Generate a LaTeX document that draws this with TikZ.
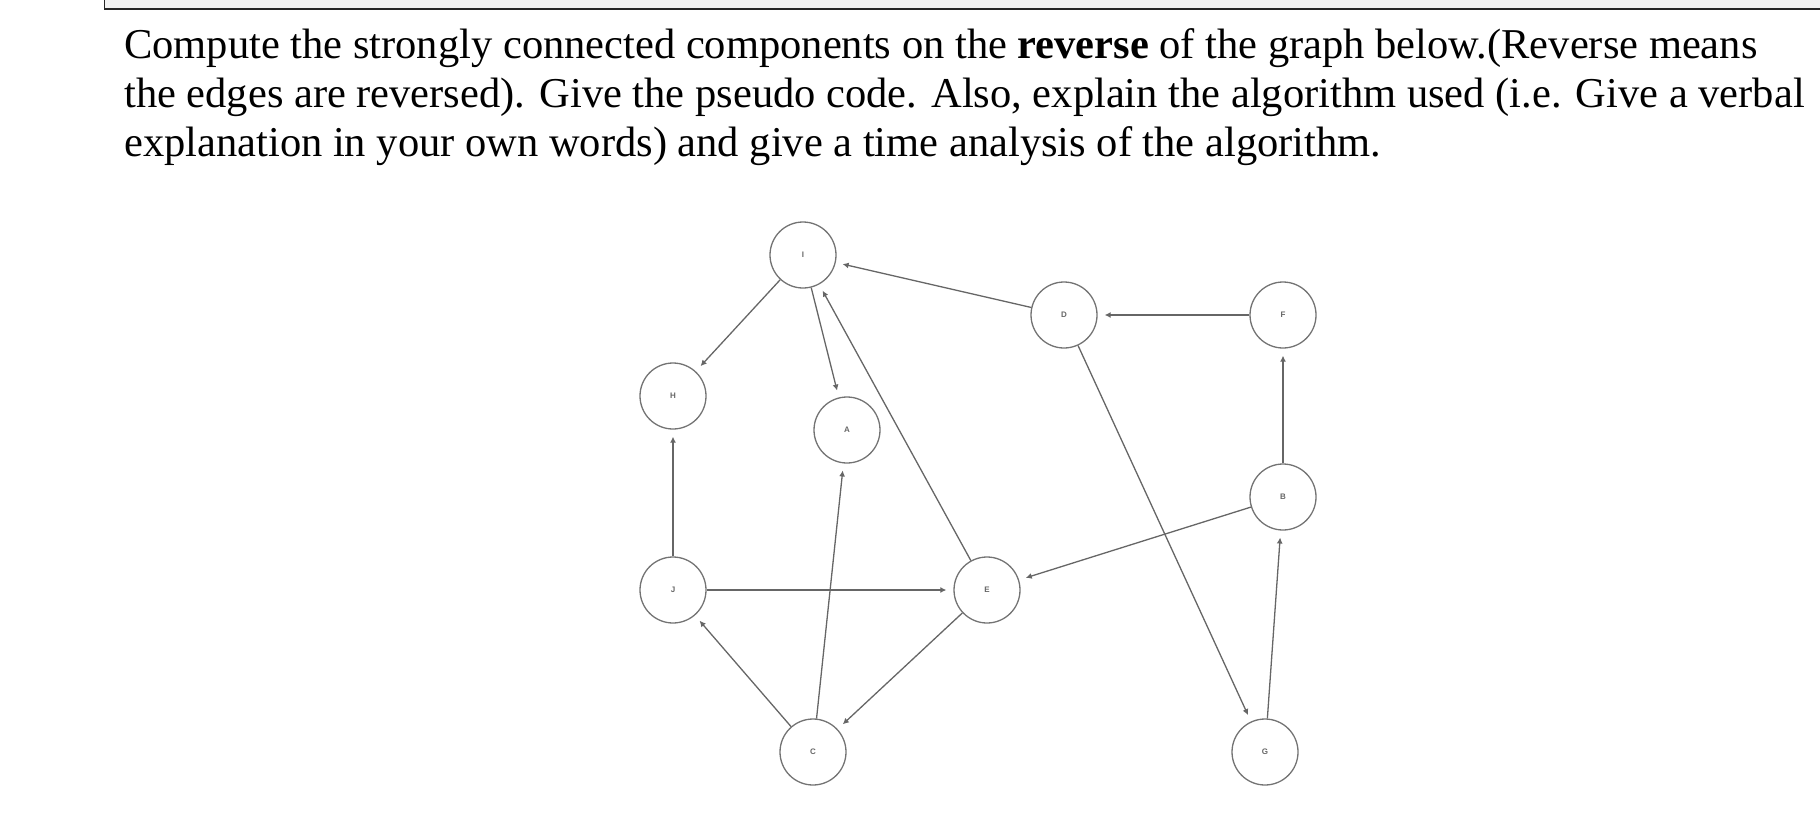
\documentclass[tikz,border=0pt]{standalone}
\usepackage{fontspec}
\setmainfont{Liberation Serif}
\newfontfamily\lblfont{Liberation Sans}
\usetikzlibrary{arrows.meta}
\begin{document}
\begin{tikzpicture}[x=1pt,y=-1pt,
  vert/.style={circle,draw=black!55,line width=1.3pt,minimum size=66pt,inner sep=0pt,font=\lblfont\bfseries\fontsize{8}{9}\selectfont,text=black!60},
  edge/.style={draw=black!60,line width=1.3pt,-{Latex[length=6pt,width=6pt]},shorten >=7pt}]
\useasboundingbox (0,0) rectangle (1820,814);
\fill[black!5] (104,-2) rectangle (1822,9);
\draw[black!85,line width=2.5pt] (104,9) -- (1822,9);
\draw[black!85,line width=1pt] (104,-2) -- (104,9);
\node (txt) [anchor=north west,inner sep=0pt,align=left,font=\fontsize{42.5}{49}\selectfont] at (124,28)
 {Compute the strongly connected components on the \textbf{reverse} of the graph below.(Reverse means\\
 the edges are reversed). Give the pseudo code. Also, explain the algorithm used (i.e. Give a verbal\\
 explanation in your own words) and give a time analysis of the algorithm.};
\node[vert] (I) at (803,255) {I};
\node[vert] (D) at (1064,315) {D};
\node[vert] (F) at (1283,315) {F};
\node[vert] (H) at (673,396) {H};
\node[vert] (A) at (847,430) {A};
\node[vert] (B) at (1283,497) {B};
\node[vert] (J) at (673,590) {J};
\node[vert] (E) at (987,590) {E};
\node[vert] (C) at (813,752) {C};
\node[vert] (G) at (1265,752) {G};
\draw[edge] (I) -- (H);
\draw[edge] (I) -- (A);
\draw[edge] (D) -- (I);
\draw[edge] (F) -- (D);
\draw[edge] (E) -- (I);
\draw[edge] (J) -- (H);
\draw[edge] (J) -- (E);
\draw[edge] (C) -- (J);
\draw[edge] (C) -- (A);
\draw[edge] (E) -- (C);
\draw[edge] (B) -- (E);
\draw[edge] (B) -- (F);
\draw[edge] (D) -- (G);
\draw[edge] (G) -- (B);
\end{tikzpicture}
\end{document}
